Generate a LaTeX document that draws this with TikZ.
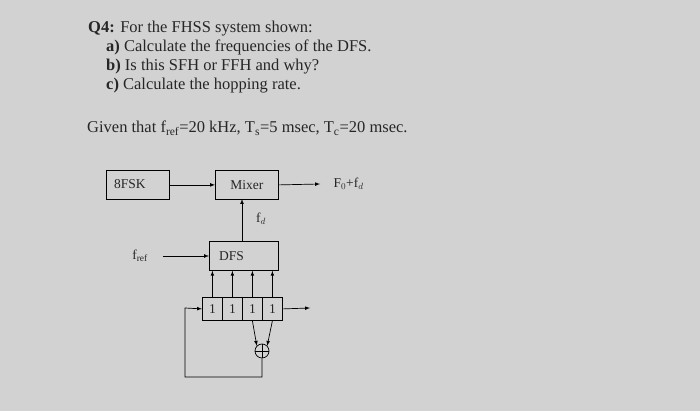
\documentclass[tikz,border=0pt]{standalone}
\usepackage{fontspec}
\setmainfont{Liberation Serif}
\begin{document}
\begin{tikzpicture}[x=1pt,y=-1pt,
 box/.style={draw,line width=0.8pt,fill=none,inner sep=0pt},
 lbl/.style={font=\fontsize{13.5}{15}\selectfont,text=black!85},
 ar/.style={-latex,line width=0.7pt},
 ln/.style={line width=0.7pt}]
\fill[gray!35!white] (0,0) rectangle (700,411);
\useasboundingbox (0,0) rectangle (700,411);
\begin{scope}[font=\fontsize{16.5}{18}\selectfont,text=black!85]
\node[anchor=base west,inner sep=0pt] (q) at (88,33) {\textbf{Q4:} For the FHSS system shown:};
\node[anchor=base west,inner sep=0pt] (qa) at (106,52) {\textbf{a)} Calculate the frequencies of the DFS.};
\node[anchor=base west,inner sep=0pt] (qb) at (106,71) {\textbf{b)} Is this SFH or FFH and why?};
\node[anchor=base west,inner sep=0pt] (qc) at (106,90) {\textbf{c)} Calculate the hopping rate.};
\node[anchor=base west,inner sep=0pt] (g) at (87,133) {Given that f$_{\mathrm{ref}}$=20 kHz, T$_{\mathrm{s}}$=5 msec, T$_{\mathrm{c}}$=20 msec.};
\end{scope}
\node[box,minimum width=63pt,minimum height=29pt,anchor=north west] (fsk) at (106,170) {};
\node[lbl,anchor=west,inner sep=0pt] at (114,184) {8FSK};
\node[box,minimum width=63pt,minimum height=29pt,anchor=north west,lbl] (mix) at (215,170) {Mixer};
\coordinate (o1) at (320,184);
\node[lbl,anchor=west] (out) at (330,184) {F$_{0}$+f$_{d}$};
\draw[ar] (fsk.east) -- (mix.west);
\draw[ar] (mix.east) -- (o1);
\node[box,minimum width=69pt,minimum height=29pt,anchor=north west] (dfs) at (209,241) {};
\node[lbl,anchor=west,inner sep=0pt] at (219,256) {DFS};
\draw[ar] (242,241) -- (242,199);
\node[lbl] (fd) at (261,219) {f$_{d}$};
\node[lbl] (fr) at (140,256) {f$_{\mathrm{ref}}$};
\coordinate (fr1) at (163,256);
\draw[ar] (fr1) -- (dfs.west|-fr1);
\foreach \i/\x in {1/202,2/222,3/242,4/262}{
 \node[box,minimum width=20pt,minimum height=23pt,anchor=north west,lbl] (c\i) at (\x,297) {1};
}
\foreach \i in {1,...,4}{\draw[ar] (c\i.north) -- (c\i.north|-dfs.south);}
\coordinate (o2) at (310,308);
\draw[ar] (c4.east) -- (o2);
\node[draw,circle,line width=0.7pt,minimum size=14pt,inner sep=0pt] (x) at (262,351) {};
\draw[ln] (x.north)--(x.south) (x.west)--(x.east);
\draw[ar] (c3.south) -- (x.north west);
\draw[ar] (c4.south) -- (x.north east);
\draw[ar] (x.south) -- (262,377) -- (185,377) -- (185,308) -- (c1.west);
\end{tikzpicture}
\end{document}
